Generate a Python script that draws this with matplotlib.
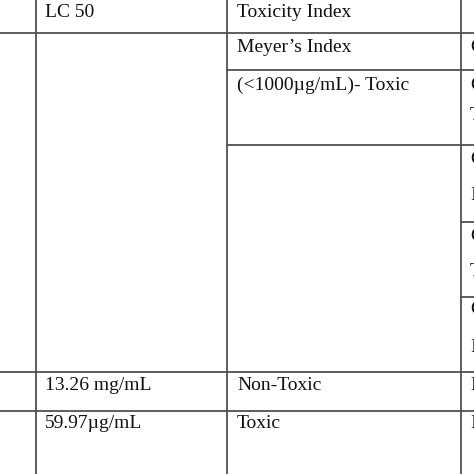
import matplotlib
matplotlib.use("Agg")
import matplotlib.pyplot as plt

col_lc50 = ["LC 50", "13.26 mg/mL", "59.97\u00b5g/mL"]
col_lc50_y = [12, 385, 423]
col_tox = ["Toxicity Index", "Meyer\u2019s Index", "(<1000\u00b5g/mL)- Toxic", "Non-Toxic", "Toxic"]
col_tox_y = [12, 47, 85, 385, 423]
col_cut = ["C", "C", "T", "C", "I", "C", "T", "C", "I", "N", "I"]
col_cut_y = [47, 85, 115, 160, 196, 236, 272, 310, 347, 385, 423]

fig = plt.figure(figsize=(4.74, 4.74), dpi=100)
ax = fig.add_axes([0, 0, 1, 1])
ax.set_xlim(0, 474)
ax.set_ylim(474, 0)
ax.axis("off")

lc = "#505050"
lw = 1.3
for x in [36, 227, 461]:
    ax.plot([x, x], [0, 474], color=lc, lw=lw)
for y in [33, 372, 411]:
    ax.plot([0, 474], [y, y], color=lc, lw=lw)
for y in [70, 145]:
    ax.plot([227, 474], [y, y], color=lc, lw=lw)
for y in [222, 297]:
    ax.plot([461, 474], [y, y], color=lc, lw=lw)

fs = 14
fam = ["Liberation Serif", "DejaVu Serif"]
for t, y in zip(col_lc50, col_lc50_y):
    ax.text(45, y, t, fontsize=fs, family=fam, va="center", ha="left", color="#111111")
for t, y in zip(col_tox, col_tox_y):
    ax.text(237, y, t, fontsize=fs, family=fam, va="center", ha="left", color="#111111")
for t, y in zip(col_cut, col_cut_y):
    ax.text(470, y, t, fontsize=fs, family=fam, va="center", ha="left", color="#111111", clip_on=True)

fig.savefig("out.png", dpi=100)
